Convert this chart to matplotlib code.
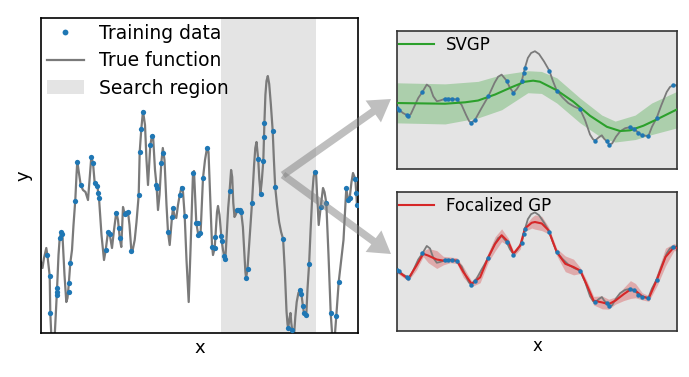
import matplotlib
matplotlib.use("Agg")
import matplotlib.pyplot as plt
from matplotlib.lines import Line2D
from matplotlib.patches import Patch, FancyArrowPatch
import numpy as np

# ---------------- data ----------------
true_x = [0, 1.5, 3, 5.3, 6.5, 8.7, 9.3, 10.5, 13.5, 15.5, 16, 17.5, 18.7, 20.3, 21.5, 23.5, 25.3,
          26.5, 27.7, 29.3, 31, 32.5, 34.3, 35.5, 36.3, 37.5, 39.7, 42, 44.5, 47, 48.5, 50.3, 52,
          53.7, 56.3, 58, 60.5, 63, 64.7, 67, 69, 71, 73, 75.3, 77, 78.7, 80.3, 82, 83.7, 85.3, 87,
          88.5, 90.3, 91.5, 93.7, 95.5, 97.7, 98.7, 100.3, 102, 104, 105.5, 107, 109.3, 111, 112,
          114, 115.5, 117, 118.5, 120.3, 121.8, 123.5, 125.5, 127, 128.7, 131, 132, 133.5, 135.3,
          137, 138.7, 140.5, 142, 143.7, 145.5, 147.7, 149.5, 152, 153, 155.3, 157, 159.5, 162,
          164, 166, 167.5, 169.5, 171, 172, 173.7, 174.5, 176, 177, 178.5,
          180, 180.7, 182.0, 183.3, 183.8, 184.7, 185.8, 187.2, 188.6, 190.1, 191.2, 192.3, 193.5,
          194.6, 196.3, 197.4, 198.5, 200.2, 201.9, 203.4, 204.4, 205.1, 206.5, 208.7, 211.0,
          213.1, 214.3, 215.5, 217.2, 218.3, 219.5, 220.7, 222.3, 223.4, 224.4, 225.5, 226.8,
          228.2, 229.9, 231.7, 232.9, 234.2, 236.0, 238.1, 240.1, 242.1, 243.8, 245.5, 246.5,
          247.2, 248.4, 249.5, 250.3, 251.2, 252.0, 253.0, 254.3, 255.7, 257.4, 259.1, 260.4,
          261.9, 263.0, 264.2, 265.3, 266.5, 268.1, 269.6, 271.5, 272.6, 273.7, 275.0,
          276, 277.7, 279.7, 282, 283.5, 285.3, 287.5, 289.7, 291.5, 293.5, 295.3, 297.7, 300,
          302.5, 305.3, 307, 308.7, 310.5, 312, 314.3, 315.3, 316, 317]
true_y = [71, 65, 75, 85, 77, 57, 20, -7, -7, 33, 43, 78, 95, 101, 97, 58, 31,
          35, 48, 70, 83, 108, 133, 158, 172, 163, 148, 143, 141, 133, 153, 176, 170,
          150, 147, 135, 98, 73, 83, 101, 97, 85, 103, 121, 113, 95, 86, 126, 119, 120, 121,
          108, 83, 82, 93, 111, 138, 181, 204, 222, 208, 173, 148, 188, 197, 198,
          163, 148, 123, 138, 170, 185, 173, 128, 101, 88, 116, 125, 117, 115,
          128, 138, 146, 141, 117, 73, 31, 83, 160, 162, 110, 100, 98, 155,
          173, 185, 181, 128, 88, 78, 85, 97, 121, 127, 118,
          100, 92, 83, 77, 73, 80, 100, 125, 142, 163, 156, 130, 116,
          118, 123, 123, 123, 121, 106, 78, 61, 55, 64, 97, 130,
          168, 185, 191, 174, 154, 140, 151, 172, 210, 238, 252, 257,
          249, 228, 202, 173, 146, 128, 111, 101, 94, 63, 22, 9,
          5, 14, 20, 10, 3, -6, -3, 16, 31, 40, 43, 39,
          27, 20, 19, 18, 44, 69, 103, 142, 156, 161, 161,
          140, 108, 126, 145, 141, 130, 78, 20, -7, -7, 17, 51, 71,
          93, 145, 133, 135, 151, 160, 154, 140, 128, 133]

train_x = [6, 8.7, 9.3, 16, 16, 16, 18.7, 20.3, 21, 27.7, 27.7, 29.3, 34.3, 36.3, 39.7, 50.3, 52,
           53.7, 56.3, 57, 58, 64.7, 67, 68.7, 75.3, 78, 78.7, 83.7, 85.3, 87, 90.3, 97.7, 98.7,
           100.3, 102, 109.3, 111, 114.7, 116.3, 120.3, 122, 127, 131, 132, 138.7, 141, 143.7,
           152, 155.3, 157, 157, 158.7, 162, 166, 171, 173.7, 174.3,
           179.9, 180.7, 183.3, 183.8, 188.6, 196.3, 197.4, 198.5, 200.2, 205.1, 206.5, 211.0,
           217.2, 219.5, 222.3, 223.2, 223.4, 231.7, 234.2, 242.1, 247.2, 251.2, 252.0, 259.1,
           260.4, 261.9, 263.0, 265.3, 268.1, 273.7,
           279.5, 285.3, 289.7, 295.3, 297.7, 305.3, 307, 308.7, 314.3, 315.3, 316]
train_y = [78, 57, 20, 45, 41, 38, 95, 101, 99, 50, 41, 70, 132, 171, 148, 176, 170,
           150, 147, 140, 135, 83, 101, 99, 120, 105, 95, 119, 120, 121, 82, 138, 181,
           204, 221, 188, 197, 148, 145, 170, 180, 101, 116, 125, 138, 145, 117,
           160, 110, 98, 110, 100, 155, 185, 86, 85, 96,
           97, 92, 77, 74, 142, 123, 123, 123, 121, 55, 64, 130,
           174, 139, 172, 196, 210, 202, 146, 94, 5, 3, -6, 43,
           39, 27, 20, 18, 69, 161,
           126, 130, 20, 17, 51, 145, 133, 135, 154, 140, 128]

search_region = [180, 275]

svgp_x = [180, 187.8, 196.3, 203.1, 207.5, 213.3, 219.0, 223.4, 226.2, 228.5, 234.2, 239.8,
          245.5, 251.2, 255.7, 259.1, 263.6, 268.2, 275.0]
svgp_mean = [111, 110, 109, 113, 118, 135, 156, 171, 174, 171, 147, 115, 75, 44, 32, 34, 47, 65, 93]
svgp_band_x = [180, 196.3, 207.5, 215.5, 224.4, 229, 234.2, 242.1, 249.5, 254.0, 260.8, 266.4, 275.0]
svgp_upper = [168, 165, 172, 191, 202, 200, 182, 125, 77, 60, 77, 111, 144]
svgp_lower = [55, 52, 69, 92, 140, 138, 111, 55, 13, 1, 8, 22, 41]

focal_x = [179.9, 183.8, 186.6, 188.9, 190.6, 193.5, 195.7, 198.0, 200.3, 202.5, 205.3, 208.2,
           211.0, 213.3, 215.5, 217.8, 219.5, 221.8, 223.4, 225.7, 226.8, 229.1, 231.4, 234.2,
           237.1, 239.9, 242.2, 244.5, 246.7, 249.6, 251.8, 254.1, 256.9, 259.2, 260.9, 263.2,
           265.4, 268.3, 271.1, 274.0, 275.0]
focal_mean = [94, 71, 108, 141, 136, 125, 122, 124, 122, 90, 57, 75, 132, 169, 193, 174, 141, 164,
              212, 228, 230, 226, 207, 146, 113, 104, 94, 52, 10, 5, 0, 10, 28, 41, 38, 22, 16,
              71, 132, 160, 157]
focal_hw = [6, 6, 12, 8, 20, 25, 12, 8, 8, 15, 8, 15, 14, 20, 18, 10, 8, 10, 8, 15, 20, 20, 10,
            10, 22, 22, 8, 12, 12, 18, 14, 10, 18, 25, 20, 10, 8, 18, 25, 10, 8]

# ---------------- figure ----------------
W, H = 689, 377
fig = plt.figure(figsize=(W / 100, H / 100), dpi=100)

def rect(x0, y0, x1, y1):
    return [x0 / W, 1 - y1 / H, (x1 - x0) / W, (y1 - y0) / H]

ax = fig.add_axes(rect(41, 18, 358, 333))
ax_s = fig.add_axes(rect(397, 31, 677, 169))
ax_f = fig.add_axes(rect(397, 192, 677, 331))

blue = '#1f77b4'
gcol = '#7a7a7a'
shade = '#e4e4e4'

# left panel
ax.axvspan(search_region[0], search_region[1], color=shade, lw=0, zorder=0)
ax.plot(true_x, true_y, color=gcol, lw=1.6, zorder=2)
ax.plot(train_x, train_y, 'o', color=blue, ms=3.8, mec='none', zorder=3)
ax.set_xlim(0, 317)
ax.set_ylim(0, 315)
ax.set_xticks([]); ax.set_yticks([])
ax.set_xlabel('x', fontsize=13, labelpad=4)
ax.set_ylabel('y', fontsize=13, labelpad=6)
for s in ax.spines.values():
    s.set_linewidth(1.2)
handles = [Line2D([], [], marker='o', ls='none', color=blue, ms=4.2, mec='none'),
           Line2D([], [], color=gcol, lw=1.6),
           Patch(color=shade, lw=0)]
ax.legend(handles, ['Training data', 'True function', 'Search region'], loc='upper left',
          bbox_to_anchor=(0, 1), borderaxespad=0.0, borderpad=0.3, frameon=False,
          fontsize=13.5, handlelength=2.0, handletextpad=0.8, labelspacing=0.45)

# right panels
for a in (ax_s, ax_f):
    a.set_facecolor(shade)
    a.plot(true_x, true_y, color=gcol, lw=1.3, zorder=2)
    a.plot(train_x, train_y, 'o', color=blue, ms=3.2, mec='none', zorder=4)
    a.set_xlim(search_region[0], search_region[1])
    a.set_ylim(-75, 314)
    a.set_xticks([]); a.set_yticks([])
    for s in a.spines.values():
        s.set_linewidth(1.2)
        s.set_color('#333333')

green = '#2ca02c'
ax_s.fill_between(svgp_band_x, svgp_lower, svgp_upper, color=green, alpha=0.3, lw=0, zorder=1)
ax_s.plot(svgp_x, svgp_mean, color=green, lw=1.5, zorder=3, label='SVGP')
ax_s.legend(loc='upper left', bbox_to_anchor=(-0.012, 1.0), borderaxespad=0, borderpad=0.3,
            frameon=False, fontsize=12, handlelength=2.1, handletextpad=0.75)

red = '#d62728'
fm = np.array(focal_mean, dtype=float)
fh = np.array(focal_hw, dtype=float)
ax_f.fill_between(focal_x, fm - fh, fm + fh, color=red, alpha=0.3, lw=0, zorder=1)
ax_f.plot(focal_x, focal_mean, color=red, lw=1.5, zorder=3, label='Focalized GP')
ax_f.legend(loc='upper left', bbox_to_anchor=(-0.012, 1.0), borderaxespad=0, borderpad=0.3,
            frameon=False, fontsize=12, handlelength=2.1, handletextpad=0.75)
ax_f.set_xlabel('x', fontsize=12, labelpad=4)

# arrows
def fp(px, py):
    return (px / W, 1 - py / H)

for tip in [(391, 99), (391, 254)]:
    arr = FancyArrowPatch(fp(283, 175), fp(*tip), transform=fig.transFigure,
                          arrowstyle='simple,head_length=1.3,head_width=1.6,tail_width=0.45',
                          mutation_scale=12, color='#808080', alpha=0.5, lw=0,
                          shrinkA=0, shrinkB=0)
    fig.add_artist(arr)

fig.savefig('out.png', dpi=100)
